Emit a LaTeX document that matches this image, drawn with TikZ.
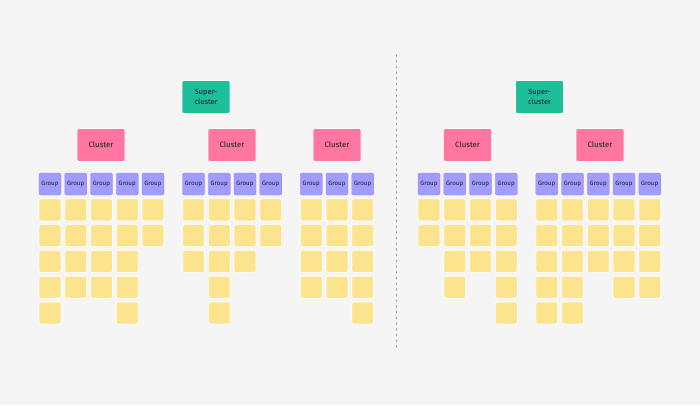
\documentclass[tikz,border=0pt]{standalone}
\usepackage{fontspec}
\setmainfont{Fira Sans}
\usepackage{xcolor}
\usetikzlibrary{positioning}

\definecolor{bggray}{HTML}{F5F5F5}
\definecolor{superteal}{HTML}{1EBE9B}
\definecolor{clusterpink}{HTML}{FF76A0}
\definecolor{grouppurple}{HTML}{A29CFE}
\definecolor{groupedge}{HTML}{8E87F2}
\definecolor{noteyellow}{HTML}{FCE48E}
\definecolor{inkdark}{HTML}{1A1A28}
\definecolor{dotgray}{HTML}{9A9A9A}

\begin{document}
\begin{tikzpicture}[
    x=1pt, y=-1pt,
    box/.style={rounded corners=2pt, inner sep=0pt, align=center,
                text=inkdark, draw=white, line width=0.6pt},
    super/.style={box, fill=superteal, minimum width=48pt, minimum height=33pt,
                  font=\fontsize{7.4}{9.3}\selectfont},
    cluster/.style={box, fill=clusterpink, minimum width=48pt, minimum height=33pt,
                    font=\fontsize{7.8}{9}\selectfont},
    group/.style={box, fill=grouppurple, draw=groupedge, line width=0.4pt,
                  minimum width=22pt, minimum height=22pt,
                  font=\fontsize{6.2}{7}\selectfont},
    note/.style={box, fill=noteyellow, minimum width=22pt, minimum height=22pt},
    divider/.style={draw=dotgray, line width=1.3pt, dash pattern=on 1.3pt off 4.4pt,
                    line cap=round}
  ]
  % canvas
  \fill[bggray] (0,0) rectangle (700,405);
  \useasboundingbox (0,0) rectangle (700,405);

  % super-clusters
  \node[super] (sup1) at (206,97) {Super-\\cluster};
  \node[super] (sup2) at (539.5,97) {Super-\\cluster};

  % clusters
  \node[cluster] (cl1) at (101,145) {Cluster};
  \node[cluster] (cl2) at (232,145) {Cluster};
  \node[cluster] (cl3) at (337,145) {Cluster};
  \node[cluster] (cl4) at (467.6,145) {Cluster};
  \node[cluster] (cl5) at (600,145) {Cluster};

  % groups and their notes: x position / number of notes
  \foreach \x/\n [count=\i] in {50/5, 75.75/4, 101.5/4, 127.25/5, 153/2,
                                193.5/3, 219.25/5, 245/3, 270.75/2,
                                311.25/4, 337/4, 362.75/5,
                                429/2, 454.75/4, 480.5/3, 506.25/5,
                                546.75/5, 572.5/5, 598.25/3, 624/4, 649.75/4} {
    \node[group] (g\i) at (\x,184) {Group};
    \foreach \r in {1,...,\n}
      \node[note] (n\i-\r) at (\x,{184+\r*25.8}) {};
  }

  % divider
  \coordinate (divtop) at (396.7,55);
  \coordinate (divbot) at (396.7,349);
  \draw[divider] (divtop) -- (divbot);
\end{tikzpicture}
\end{document}
